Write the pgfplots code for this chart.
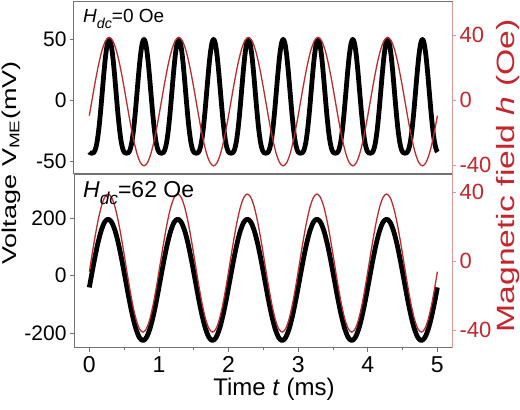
\documentclass[border=0pt]{standalone}
\usepackage{pgfplots}
\pgfplotsset{compat=1.18}
\usepackage{fontspec}
\setmainfont{Liberation Sans}
\definecolor{rlab}{RGB}{196,38,45}
\definecolor{rcurve}{RGB}{185,45,45}
\definecolor{rspine}{RGB}{220,150,150}
\definecolor{framec}{RGB}{115,115,115}
\newcommand{\fs}[1]{\fontsize{#1}{#1}\selectfont}
\newcommand{\Hdc}{\textit{H}\raisebox{-0.3em}{\scalebox{0.75}{\textit{dc}}}}
\begin{document}
\begin{tikzpicture}
\path[use as bounding box] (0pt,0pt) rectangle (520pt,410pt);
\pgfplotsset{
 base/.style={scale only axis, width=378pt, xmin=-0.22, xmax=5.21, tick align=outside,
   major tick length=4pt, minor tick length=2.5pt, anchor=south west, clip=true},
 leftax/.style={base, axis line style={draw=framec, line width=1pt},
   tick style={draw=framec, line width=0.8pt}, ytick pos=left,
   y tick label style={font=\fs{21}}},
 rightax/.style={base, axis y line*=right, axis x line=none,
   y axis line style={draw=rspine, line width=1pt},
   tick style={draw=rspine, line width=0.8pt},
   ytick={-40,0,40}, yticklabels={-40,0,40},
   y tick label style={font=\fs{22}, text=rlab}},
}
% ---------- bottom panel ----------
\begin{axis}[leftax, at={(74pt,62pt)}, height=174pt, ymin=-252, ymax=353,
  xtick={0,1,2,3,4,5}, xticklabels={0,1,2,3,4,5}, minor xtick={0.5,1.5,2.5,3.5,4.5},
  xtick pos=bottom, x tick label style={font=\fs{23}, yshift=-1pt},
  ytick={-200,0,200}, yticklabels={-200,0,200}]
\addplot[black, line width=4.8pt, smooth, line join=round] coordinates {
(0,-41.4)
(0.02,-15) (0.07,50.2) (0.12,109.02) (0.17,155.7) (0.22,185.67) (0.27,196) (0.32,185.67) (0.37,155.7) (0.42,109.02) (0.47,50.2) (0.52,-15) (0.57,-80.2) (0.62,-139.02) (0.67,-185.7) (0.72,-215.67) (0.77,-226) (0.82,-215.67) (0.87,-185.7) (0.92,-139.02) (0.97,-80.2)
(1.02,-15) (1.07,50.2) (1.12,109.02) (1.17,155.7) (1.22,185.67) (1.27,196) (1.32,185.67) (1.37,155.7) (1.42,109.02) (1.47,50.2) (1.52,-15) (1.57,-80.2) (1.62,-139.02) (1.67,-185.7) (1.72,-215.67) (1.77,-226) (1.82,-215.67) (1.87,-185.7) (1.92,-139.02) (1.97,-80.2)
(2.02,-15) (2.07,50.2) (2.12,109.02) (2.17,155.7) (2.22,185.67) (2.27,196) (2.32,185.67) (2.37,155.7) (2.42,109.02) (2.47,50.2) (2.52,-15) (2.57,-80.2) (2.62,-139.02) (2.67,-185.7) (2.72,-215.67) (2.77,-226) (2.82,-215.67) (2.87,-185.7) (2.92,-139.02) (2.97,-80.2)
(3.02,-15) (3.07,50.2) (3.12,109.02) (3.17,155.7) (3.22,185.67) (3.27,196) (3.32,185.67) (3.37,155.7) (3.42,109.02) (3.47,50.2) (3.52,-15) (3.57,-80.2) (3.62,-139.02) (3.67,-185.7) (3.72,-215.67) (3.77,-226) (3.82,-215.67) (3.87,-185.7) (3.92,-139.02) (3.97,-80.2)
(4.02,-15) (4.07,50.2) (4.12,109.02) (4.17,155.7) (4.22,185.67) (4.27,196) (4.32,185.67) (4.37,155.7) (4.42,109.02) (4.47,50.2) (4.52,-15) (4.57,-80.2) (4.62,-139.02) (4.67,-185.7) (4.72,-215.67) (4.77,-226) (4.82,-215.67) (4.87,-185.7) (4.92,-139.02) (4.97,-80.2)
(5,-41.4)
};
\end{axis}
\begin{axis}[rightax, at={(74pt,62pt)}, height=174pt, ymin=-50.4, ymax=50.4]
\addplot[rcurve, line width=1.3pt, smooth] coordinates {
(0,-6.2)
(0.02,-1.2) (0.07,11.16) (0.12,22.31) (0.17,31.16) (0.22,36.84) (0.27,38.8) (0.32,36.84) (0.37,31.16) (0.42,22.31) (0.47,11.16) (0.52,-1.2) (0.57,-13.56) (0.62,-24.71) (0.67,-33.56) (0.72,-39.24) (0.77,-41.2) (0.82,-39.24) (0.87,-33.56) (0.92,-24.71) (0.97,-13.56)
(1.02,-1.2) (1.07,11.16) (1.12,22.31) (1.17,31.16) (1.22,36.84) (1.27,38.8) (1.32,36.84) (1.37,31.16) (1.42,22.31) (1.47,11.16) (1.52,-1.2) (1.57,-13.56) (1.62,-24.71) (1.67,-33.56) (1.72,-39.24) (1.77,-41.2) (1.82,-39.24) (1.87,-33.56) (1.92,-24.71) (1.97,-13.56)
(2.02,-1.2) (2.07,11.16) (2.12,22.31) (2.17,31.16) (2.22,36.84) (2.27,38.8) (2.32,36.84) (2.37,31.16) (2.42,22.31) (2.47,11.16) (2.52,-1.2) (2.57,-13.56) (2.62,-24.71) (2.67,-33.56) (2.72,-39.24) (2.77,-41.2) (2.82,-39.24) (2.87,-33.56) (2.92,-24.71) (2.97,-13.56)
(3.02,-1.2) (3.07,11.16) (3.12,22.31) (3.17,31.16) (3.22,36.84) (3.27,38.8) (3.32,36.84) (3.37,31.16) (3.42,22.31) (3.47,11.16) (3.52,-1.2) (3.57,-13.56) (3.62,-24.71) (3.67,-33.56) (3.72,-39.24) (3.77,-41.2) (3.82,-39.24) (3.87,-33.56) (3.92,-24.71) (3.97,-13.56)
(4.02,-1.2) (4.07,11.16) (4.12,22.31) (4.17,31.16) (4.22,36.84) (4.27,38.8) (4.32,36.84) (4.37,31.16) (4.42,22.31) (4.47,11.16) (4.52,-1.2) (4.57,-13.56) (4.62,-24.71) (4.67,-33.56) (4.72,-39.24) (4.77,-41.2) (4.82,-39.24) (4.87,-33.56) (4.92,-24.71) (4.97,-13.56)
(5,-6.2)
};
\end{axis}
% ---------- top panel ----------
\begin{axis}[leftax, at={(74pt,236pt)}, height=172pt, ymin=-60, ymax=80.5,
  xtick=\empty, ytick={-50,0,50}, yticklabels={-50,0,50}]
\addplot[black, line width=4.8pt, smooth, line join=round] coordinates {
(0,-42.03) (0.01,-42.64)
(0.035,-43) (0.06,-42.64) (0.085,-40.26) (0.11,-34.3) (0.135,-24.11) (0.16,-10.12) (0.185,6.24) (0.21,22.79) (0.235,37) (0.26,46.61) (0.285,50) (0.31,46.61) (0.335,37) (0.36,22.79) (0.385,6.24) (0.41,-10.12) (0.435,-24.11) (0.46,-34.3) (0.485,-40.26) (0.51,-42.64)
(0.535,-43) (0.56,-42.64) (0.585,-40.26) (0.61,-34.3) (0.635,-24.11) (0.66,-10.12) (0.685,6.24) (0.71,22.79) (0.735,37) (0.76,46.61) (0.785,50) (0.81,46.61) (0.835,37) (0.86,22.79) (0.885,6.24) (0.91,-10.12) (0.935,-24.11) (0.96,-34.3) (0.985,-40.26) (1.01,-42.64)
(1.035,-43) (1.06,-42.64) (1.085,-40.26) (1.11,-34.3) (1.135,-24.11) (1.16,-10.12) (1.185,6.24) (1.21,22.79) (1.235,37) (1.26,46.61) (1.285,50) (1.31,46.61) (1.335,37) (1.36,22.79) (1.385,6.24) (1.41,-10.12) (1.435,-24.11) (1.46,-34.3) (1.485,-40.26) (1.51,-42.64)
(1.535,-43) (1.56,-42.64) (1.585,-40.26) (1.61,-34.3) (1.635,-24.11) (1.66,-10.12) (1.685,6.24) (1.71,22.79) (1.735,37) (1.76,46.61) (1.785,50) (1.81,46.61) (1.835,37) (1.86,22.79) (1.885,6.24) (1.91,-10.12) (1.935,-24.11) (1.96,-34.3) (1.985,-40.26) (2.01,-42.64)
(2.035,-43) (2.06,-42.64) (2.085,-40.26) (2.11,-34.3) (2.135,-24.11) (2.16,-10.12) (2.185,6.24) (2.21,22.79) (2.235,37) (2.26,46.61) (2.285,50) (2.31,46.61) (2.335,37) (2.36,22.79) (2.385,6.24) (2.41,-10.12) (2.435,-24.11) (2.46,-34.3) (2.485,-40.26) (2.51,-42.64)
(2.535,-43) (2.56,-42.64) (2.585,-40.26) (2.61,-34.3) (2.635,-24.11) (2.66,-10.12) (2.685,6.24) (2.71,22.79) (2.735,37) (2.76,46.61) (2.785,50) (2.81,46.61) (2.835,37) (2.86,22.79) (2.885,6.24) (2.91,-10.12) (2.935,-24.11) (2.96,-34.3) (2.985,-40.26) (3.01,-42.64)
(3.035,-43) (3.06,-42.64) (3.085,-40.26) (3.11,-34.3) (3.135,-24.11) (3.16,-10.12) (3.185,6.24) (3.21,22.79) (3.235,37) (3.26,46.61) (3.285,50) (3.31,46.61) (3.335,37) (3.36,22.79) (3.385,6.24) (3.41,-10.12) (3.435,-24.11) (3.46,-34.3) (3.485,-40.26) (3.51,-42.64)
(3.535,-43) (3.56,-42.64) (3.585,-40.26) (3.61,-34.3) (3.635,-24.11) (3.66,-10.12) (3.685,6.24) (3.71,22.79) (3.735,37) (3.76,46.61) (3.785,50) (3.81,46.61) (3.835,37) (3.86,22.79) (3.885,6.24) (3.91,-10.12) (3.935,-24.11) (3.96,-34.3) (3.985,-40.26) (4.01,-42.64)
(4.035,-43) (4.06,-42.64) (4.085,-40.26) (4.11,-34.3) (4.135,-24.11) (4.16,-10.12) (4.185,6.24) (4.21,22.79) (4.235,37) (4.26,46.61) (4.285,50) (4.31,46.61) (4.335,37) (4.36,22.79) (4.385,6.24) (4.41,-10.12) (4.435,-24.11) (4.46,-34.3) (4.485,-40.26) (4.51,-42.64)
(4.535,-43) (4.56,-42.64) (4.585,-40.26) (4.61,-34.3) (4.635,-24.11) (4.66,-10.12) (4.685,6.24) (4.71,22.79) (4.735,37) (4.76,46.61) (4.785,50) (4.81,46.61) (4.835,37) (4.86,22.79) (4.885,6.24) (4.91,-10.12) (4.935,-24.11) (4.96,-34.3) (4.985,-40.26)
(5,-42.03)
};
\end{axis}
\begin{axis}[rightax, at={(74pt,236pt)}, height=172pt, ymin=-45.5, ymax=60.3]
\addplot[rcurve, line width=1.3pt, smooth] coordinates {
(0,-9.61)
(0.035,-1) (0.085,11.21) (0.135,22.22) (0.185,30.96) (0.235,36.57) (0.285,38.5) (0.335,36.57) (0.385,30.96) (0.435,22.22) (0.485,11.21) (0.535,-1) (0.585,-13.21) (0.635,-24.22) (0.685,-32.96) (0.735,-38.57) (0.785,-40.5) (0.835,-38.57) (0.885,-32.96) (0.935,-24.22) (0.985,-13.21)
(1.035,-1) (1.085,11.21) (1.135,22.22) (1.185,30.96) (1.235,36.57) (1.285,38.5) (1.335,36.57) (1.385,30.96) (1.435,22.22) (1.485,11.21) (1.535,-1) (1.585,-13.21) (1.635,-24.22) (1.685,-32.96) (1.735,-38.57) (1.785,-40.5) (1.835,-38.57) (1.885,-32.96) (1.935,-24.22) (1.985,-13.21)
(2.035,-1) (2.085,11.21) (2.135,22.22) (2.185,30.96) (2.235,36.57) (2.285,38.5) (2.335,36.57) (2.385,30.96) (2.435,22.22) (2.485,11.21) (2.535,-1) (2.585,-13.21) (2.635,-24.22) (2.685,-32.96) (2.735,-38.57) (2.785,-40.5) (2.835,-38.57) (2.885,-32.96) (2.935,-24.22) (2.985,-13.21)
(3.035,-1) (3.085,11.21) (3.135,22.22) (3.185,30.96) (3.235,36.57) (3.285,38.5) (3.335,36.57) (3.385,30.96) (3.435,22.22) (3.485,11.21) (3.535,-1) (3.585,-13.21) (3.635,-24.22) (3.685,-32.96) (3.735,-38.57) (3.785,-40.5) (3.835,-38.57) (3.885,-32.96) (3.935,-24.22) (3.985,-13.21)
(4.035,-1) (4.085,11.21) (4.135,22.22) (4.185,30.96) (4.235,36.57) (4.285,38.5) (4.335,36.57) (4.385,30.96) (4.435,22.22) (4.485,11.21) (4.535,-1) (4.585,-13.21) (4.635,-24.22) (4.685,-32.96) (4.735,-38.57) (4.785,-40.5) (4.835,-38.57) (4.885,-32.96) (4.935,-24.22) (4.985,-13.21)
(5,-9.61)
};
\end{axis}
% ---------- texts ----------
\node[anchor=base west, font=\fs{19}, inner sep=0] at (83pt,387pt) {\Hdc=0 Oe};
\node[anchor=base west, font=\fs{23}, inner sep=0] at (83pt,212pt) {\Hdc=62 Oe};
\node[anchor=base, font=\fs{24}, inner sep=0] at (274pt,14pt) {Time \textit{t} (ms)};
\node[rotate=90, anchor=north, font=\fs{20}, inner sep=0] at (1.5pt,247pt) {\scalebox{1.35}[1]{Voltage V\textsubscript{ME}(mV)}};
\node[rotate=90, anchor=north, font=\fs{25}, inner sep=0, text=rlab] at (496.5pt,234pt) {\scalebox{1.35}[1]{Magnetic field \textit{h} (Oe)}};
\end{tikzpicture}
\end{document}
